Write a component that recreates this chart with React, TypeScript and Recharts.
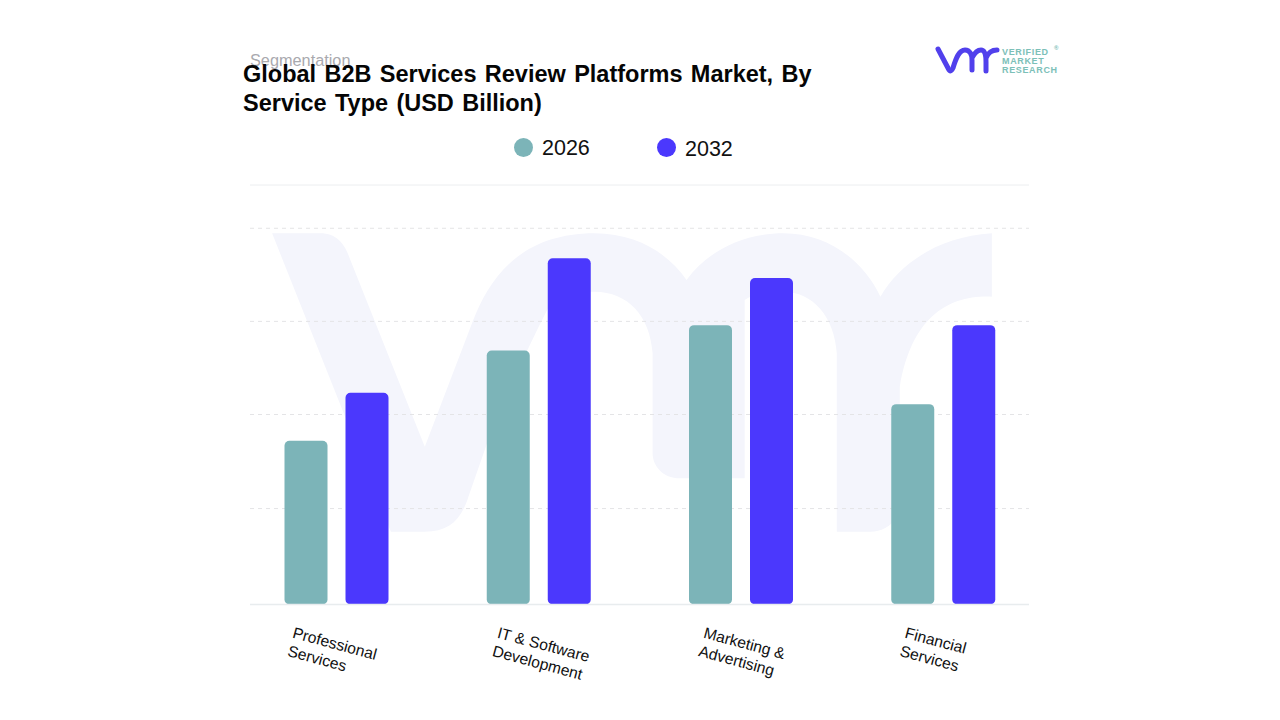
import { BarChart, Bar, XAxis, YAxis, CartesianGrid, Legend, ReferenceLine } from 'recharts'

const categories = ['Professional\nServices', 'IT & Software\nDevelopment', 'Marketing &\nAdvertising', 'Financial\nServices']
const values2026 = [1.74, 2.7, 2.97, 2.13]
const values2032 = [2.25, 3.68, 3.47, 2.97]
const gridValues = [1.02, 2.02, 3.01, 4.0]
const yMax = 4.46

const seriesNames = ['2026', '2032']
const TEAL = '#7cb4b8'
const BLUE = '#4b38fd'

const data = categories.map((name, i) => ({
	name,
	[seriesNames[0]]: values2026[i],
	[seriesNames[1]]: values2032[i],
}))

const FONT = '"Liberation Sans", Arial, sans-serif'
const tickShift = [-45, -42.5, -38.5, -39.5]

function CategoryTick({ x, y, payload, index }: any) {
	const lines = String(payload.value).split('\n')
	return (
		<g transform={`translate(${x + tickShift[index]},${y + 25}) rotate(15)`}>
			{lines.map((line, i) => (
				<text key={line} x={0} y={i * 19} fontSize={15.7} fontFamily={FONT} fill="#111">
					{line}
				</text>
			))}
		</g>
	)
}

const legendLeft = [514, 657]
const legendTop = [137, 138]
const dotShift = [-1, -2]

function LegendRow({ payload }: any) {
	return (
		<div style={{ position: 'relative', height: 0 }}>
			{(payload || []).map((item: any, i: number) => (
				<div key={item.value} style={{ position: 'absolute', left: legendLeft[i], top: legendTop[i], display: 'flex', alignItems: 'center', height: 22 }}>
					<span style={{ width: 19, height: 19, borderRadius: '50%', background: item.color, display: 'block', position: 'relative', top: dotShift[i] }} />
					<span style={{ marginLeft: 9, fontSize: 21.5, fontFamily: FONT, color: '#111', lineHeight: '22px' }}>{item.value}</span>
				</div>
			))}
		</div>
	)
}

// big pale logo behind the bars
function Watermark() {
	return (
		<svg width={1280} height={720} style={{ position: 'absolute', left: 0, top: 0 }}>
			<g transform="translate(260,220) scale(0.4847,0.3333)">
				<path
					fill="#f4f5fc"
					d="M25 40 L130 40 C165 45 178 85 185 115 L340 680 L440 300 C470 190 530 40 690 40 C780 40 845 105 880 180 C920 100 990 40 1080 40 C1170 40 1245 120 1280 230 C1320 130 1400 50 1510 40 L1510 230 C1420 225 1345 290 1320 500 L1320 880 C1300 925 1280 935 1260 935 L1190 935 L1190 400 C1185 290 1140 215 1080 215 C1040 215 1015 225 1000 240 L1000 775 L860 775 C825 770 810 730 810 700 L810 400 C805 290 760 215 690 215 C640 215 610 240 600 250 C570 330 540 430 490 580 L430 830 C415 900 390 935 340 935 L270 935 Z"
				/>
			</g>
		</svg>
	)
}

function Logo() {
	const textStyle = { fontFamily: FONT, fontWeight: 700, fontSize: 9, letterSpacing: 0.65, fill: '#7cc0b8' }
	return (
		<svg width={1280} height={720} style={{ position: 'absolute', left: 0, top: 0 }}>
			<path
				fill="none"
				stroke="#5140ec"
				strokeWidth={5}
				strokeLinecap="round"
				d="M938 49 L948 68 C950 72 951 72 953 68 C956 58 959 50 965 50 C970 50 972 55 972 60 L972 70 M972 58 C975 52 978 50 981 50 C985 50 986 56 986 62 L986 71 M986 58 C988 53 992 50 997 50"
			/>
			<text x={1002} y={55} style={textStyle}>VERIFIED</text>
			<text x={1002} y={64} style={textStyle}>MARKET</text>
			<text x={1002} y={72.5} style={textStyle}>RESEARCH</text>
			<text x={1054} y={50} style={{ ...textStyle, fontSize: 6, letterSpacing: 0 }}>®</text>
		</svg>
	)
}

export default function App() {
	return (
		<div style={{ position: 'absolute', left: 0, top: 0, width: 1280, height: 720, background: '#fff', overflow: 'hidden' }}>
			<Watermark />
			<Logo />
			<div style={{ position: 'absolute', left: 250, top: 51, fontFamily: FONT, fontSize: 16.3, color: '#a9a9ae' }}>Segmentation</div>
			<div style={{ position: 'absolute', left: 243, top: 60, width: 600, fontFamily: FONT, fontWeight: 700, fontSize: 23.5, lineHeight: '29px', wordSpacing: 1.8, color: '#050505' }}>
				Global B2B Services Review Platforms Market, By
				<br />
				Service Type (USD Billion)
			</div>
			<div style={{ position: 'absolute', left: 0, top: 0 }}>
				<BarChart
					width={1280}
					height={720}
					data={data}
					margin={{ top: 185, right: 251, bottom: 35.5, left: 250 }}
					barSize={43}
					barGap={18}
				>
					<CartesianGrid vertical={false} horizontalValues={gridValues} stroke="#e4e4e6" strokeDasharray="4 4" />
					<ReferenceLine y={yMax} stroke="#eceef0" strokeWidth={1} />
					<XAxis
						dataKey="name"
						height={80}
						interval={0}
						padding={{ left: -14.5, right: -15.5 }}
						axisLine={{ stroke: '#e8ecee', strokeWidth: 1.5 }}
						tickLine={false}
						tick={<CategoryTick />}
					/>
					<YAxis hide domain={[0, yMax]} />
					<Legend content={<LegendRow />} wrapperStyle={{ position: 'absolute', left: 0, top: 0, width: 1280, height: 0 }} />
					<Bar dataKey={seriesNames[0]} fill={TEAL} radius={5} isAnimationActive={false} />
					<Bar dataKey={seriesNames[1]} fill={BLUE} radius={5} isAnimationActive={false} />
				</BarChart>
			</div>
		</div>
	)
}
